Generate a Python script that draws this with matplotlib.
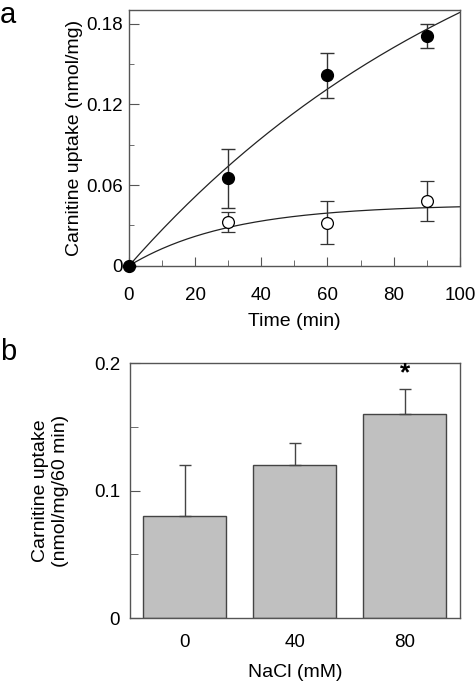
import numpy as np
import matplotlib
matplotlib.use('Agg')
import matplotlib.pyplot as plt
from matplotlib.ticker import MultipleLocator

plt.rcParams['font.family'] = ['Liberation Sans', 'DejaVu Sans']

# ---- panel a: time course ----
time = [0, 30, 60, 90]
uptake_on = [0.0, 0.065, 0.1415, 0.171]
err_on = [0.0, 0.022, 0.017, 0.009]
uptake_off = [0.0, 0.0325, 0.032, 0.048]
err_off = [0.0, 0.0075, 0.016, 0.015]

# fitted curves y = vmax * (1 - exp(-k t)), parameters
fit_on = {'vmax': 0.329, 'k': 0.0085}
fit_off = {'vmax': 0.0456, 'k': 0.0327}

# ---- panel b: NaCl dependence ----
nacl = ['0', '40', '80']
uptake_nacl = [0.08, 0.12, 0.16]
err_nacl = [0.04, 0.017, 0.02]

spine_col = '#555555'

fig = plt.figure(figsize=(4.76, 6.85), dpi=100)
ax1 = fig.add_axes([0.271, 0.612, 0.695, 0.373])
ax2 = fig.add_axes([0.273, 0.0974, 0.693, 0.3726])

t = np.linspace(0, 100, 200)
for p in (fit_on, fit_off):
    ax1.plot(t, p['vmax'] * (1 - np.exp(-p['k'] * t)), color='#222222', lw=0.9, zorder=2)

ax1.errorbar(time, uptake_on, yerr=err_on, fmt='o', color='black', ms=8.5,
             ecolor='#333333', elinewidth=1, capsize=5, capthick=1, clip_on=False, zorder=4)
ax1.errorbar(time[1:], uptake_off[1:], yerr=err_off[1:], fmt='o', mfc='white', mec='black',
             ms=8.5, mew=0.9, ecolor='#333333', elinewidth=1, capsize=5, capthick=1, zorder=3)

ax1.set_xlim(0, 100)
ax1.set_ylim(0, 0.19)
ax1.set_xticks([0, 20, 40, 60, 80, 100])
ax1.xaxis.set_minor_locator(MultipleLocator(10))
ax1.set_yticks([0, 0.06, 0.12, 0.18])
ax1.set_yticklabels(['0', '0.06', '0.12', '0.18'])
ax1.yaxis.set_minor_locator(MultipleLocator(0.03))
ax1.tick_params(axis='x', which='both', direction='in', pad=15, labelsize=13.5, color=spine_col)
ax1.tick_params(axis='y', which='both', direction='in', pad=4.5, labelsize=13.5, color=spine_col)
ax1.tick_params(axis='x', which='major', length=6.5)
ax1.tick_params(axis='x', which='minor', length=4)
ax1.tick_params(axis='y', which='major', length=7.5)
ax1.tick_params(axis='y', which='minor', length=3.5)
ax1.set_xlabel('Time (min)', fontsize=14, labelpad=7)
ax1.set_ylabel('Carnitine uptake (nmol/mg)', fontsize=14, labelpad=2)

x = np.arange(len(nacl))
ax2.bar(x, uptake_nacl, width=0.755, color='#c0c0c0', edgecolor='#444444', linewidth=1, zorder=2)
ax2.errorbar(x, uptake_nacl, yerr=[np.zeros(len(err_nacl)), err_nacl], fmt='none',
             ecolor='#444444', elinewidth=1, capsize=4.2, capthick=1, zorder=3)
ax2.text(x[2], 0.192, '*', ha='center', va='center', fontsize=19, fontweight='bold')

ax2.set_xlim(-0.5, 2.5)
ax2.set_ylim(0, 0.2)
ax2.set_xticks(x)
ax2.set_xticklabels(nacl)
ax2.set_yticks([0, 0.1, 0.2])
ax2.set_yticklabels(['0', '0.1', '0.2'])
ax2.yaxis.set_minor_locator(MultipleLocator(0.05))
ax2.tick_params(axis='x', which='both', length=0, pad=11, labelsize=13.5)
ax2.tick_params(axis='y', which='both', direction='in', pad=7, labelsize=13.5, color=spine_col)
ax2.tick_params(axis='y', which='major', length=7)
ax2.tick_params(axis='y', which='minor', length=6)
ax2.set_xlabel('NaCl (mM)', fontsize=14, labelpad=10)
ax2.set_ylabel('Carnitine uptake\n(nmol/mg/60 min)', fontsize=14, labelpad=18)

for ax in (ax1, ax2):
    for s in ax.spines.values():
        s.set_color(spine_col)
        s.set_linewidth(1)

fig.text(0.0, 0.999, 'a', fontsize=21, ha='left', va='top')
fig.text(0.0, 0.4745, 'b', fontsize=21, ha='left', va='baseline')

fig.savefig('out.png', dpi=100)
